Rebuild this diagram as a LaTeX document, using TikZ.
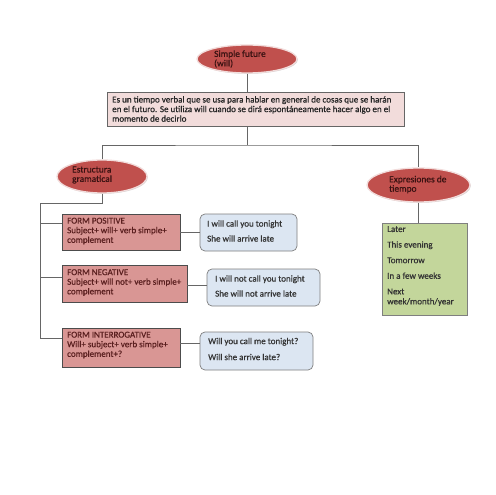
\documentclass[tikz,border=0pt]{standalone}
\usepackage{fontspec}
\setmainfont{Carlito}[FakeBold=0.7]
\usetikzlibrary{shapes.geometric,shadows}
\definecolor{ellred}{HTML}{C0504D}
\definecolor{ellrim}{HTML}{F2DCDB}
\definecolor{descfill}{HTML}{F2DCDB}
\definecolor{formfill}{HTML}{D99694}
\definecolor{bluefill}{HTML}{DCE6F2}
\definecolor{greenfill}{HTML}{C3D69B}
\definecolor{linegray}{HTML}{7F7F7F}
\definecolor{darktxt}{HTML}{3A1212}
\definecolor{formtxt}{HTML}{5A1F1F}
\tikzset{
  ell/.style={ellipse, fill=ellred, draw=ellrim, line width=1.3pt, inner sep=0pt,
    drop shadow={opacity=0.35, shadow xshift=0.8pt, shadow yshift=-0.8pt}},
  elltext/.style={align=left, inner sep=0pt, text=darktxt, font=\fontsize{9.4}{9.4}\selectfont, anchor=west},
  descbox/.style={rectangle, fill=descfill, draw=linegray!80!black, line width=0.7pt, inner sep=0pt,
    drop shadow={opacity=0.25, shadow xshift=0.8pt, shadow yshift=-0.8pt}},
  formbox/.style={rectangle, fill=formfill, draw=linegray!60!black, line width=0.6pt, inner sep=0pt},
  bluebox/.style={rectangle, rounded corners=5pt, fill=bluefill, draw=linegray, line width=0.7pt, inner sep=0pt},
  greenbox/.style={rectangle, fill=greenfill, draw=linegray, line width=0.7pt, inner sep=0pt},
  intext/.style={align=left, inner sep=0pt, anchor=west, font=\fontsize{9}{9.6}\selectfont},
  conn/.style={draw=linegray!80!black, line width=0.6pt},
}
\begin{document}
\begin{tikzpicture}[x=1pt,y=-1pt]
\useasboundingbox (0,0) rectangle (495,495);
\fill[white] (0,0) rectangle (495,495);

% ellipses
\node[ell, minimum width=100pt, minimum height=28pt] (top) at (247,59) {};
\node[elltext] (toptxt) at (214,59) {Simple  future\\(will)};

\node[descbox, minimum width=297pt, minimum height=34pt] (desc) at (255.5,109) {};
\node[intext, text=black!85] (desctxt) at (112,109)
  {Es un tiempo verbal que se usa para hablar en general de cosas que se harán\\
   en el futuro. Se utiliza will cuando se dirá espontáneamente hacer algo en el\\
   momento de decirlo};

\node[ell, minimum width=90pt, minimum height=33pt] (est) at (102,176.5) {};
\node[elltext] (esttxt) at (72,175) {Estructura\\gramatical};

\node[ell, minimum width=103pt, minimum height=34pt] (exp) at (418.5,185) {};
\node[elltext] (exptxt) at (389,184.5) {Expresiones de\\tiempo};

% form boxes
\node[formbox, minimum width=118pt, minimum height=36pt] (fp) at (121,232) {};
\node[intext, text=formtxt] (fptxt) at (67,231) {FORM POSITIVE\\Subject+ will+ verb simple+\\complement};

\node[formbox, minimum width=125pt, minimum height=37pt] (fn) at (124.5,283.5) {};
\node[intext, text=formtxt] (fntxt) at (67,282.5) {FORM NEGATIVE\\Subject+ will not+ verb simple+\\complement};

\node[formbox, minimum width=118pt, minimum height=39pt] (fi) at (121,347.5) {};
\node[intext, text=formtxt] (fitxt) at (67,345) {FORM INTERROGATIVE\\Will+ subject+ verb simple+\\complement+?};

% blue boxes
\node[bluebox, minimum width=97pt, minimum height=37pt] (bp) at (248.5,232.5) {};
\node[intext, text=black!80, font=\fontsize{9}{15}\selectfont] (bptxt) at (207,231) {I will call you tonight\\She will arrive late};

\node[bluebox, minimum width=113pt, minimum height=37pt] (bn) at (263.5,287.5) {};
\node[intext, text=black!80, font=\fontsize{9}{15}\selectfont] (bntxt) at (215,286) {I will not call you tonight\\She will not arrive late};

\node[bluebox, minimum width=113pt, minimum height=38pt] (bi) at (256.5,351) {};
\node[intext, text=black!80, font=\fontsize{9}{16}\selectfont] (bitxt) at (208,349) {Will you call me tonight?\\Will she arrive late?};

% green box
\node[greenbox, minimum width=85pt, minimum height=92pt] (gr) at (424.5,269) {};
\node[intext, text=black!80, font=\fontsize{9}{10}\selectfont] (grtxt) at (387,266)
  {Later\\[5.6pt]This evening\\[5.6pt]Tomorrow\\[5.6pt]In a few weeks\\[5.6pt]Next\\week/month/year};

% connectors
\draw[conn] (top.south) -- (top.south |- desc.north);
\coordinate (j) at (247,145);
\draw[conn] (desc.south -| j) -- (j);
\draw[conn] (est.north) |- (j) -| (exp.north);
\draw[conn] (exp.south) -- (exp.south |- gr.north);

\coordinate (s0) at (40,203);
\coordinate (b1) at (40,223);
\coordinate (b2) at (40,277);
\coordinate (b3) at (40,338);
\draw[conn] (est.south) |- (s0) -- (b3) -- (b3 -| fi.west);
\draw[conn] (b1) -- (b1 -| fp.west);
\draw[conn] (b2) -- (b2 -| fn.west);

\coordinate (c3) at (180,343);
\draw[conn] (fp.east) -- (fp.east -| bp.west);
\draw[conn] (fn.east |- 0,285) -- (bn.west |- 0,285);
\draw[conn] (c3) -- (c3 -| bi.west);
\end{tikzpicture}
\end{document}
